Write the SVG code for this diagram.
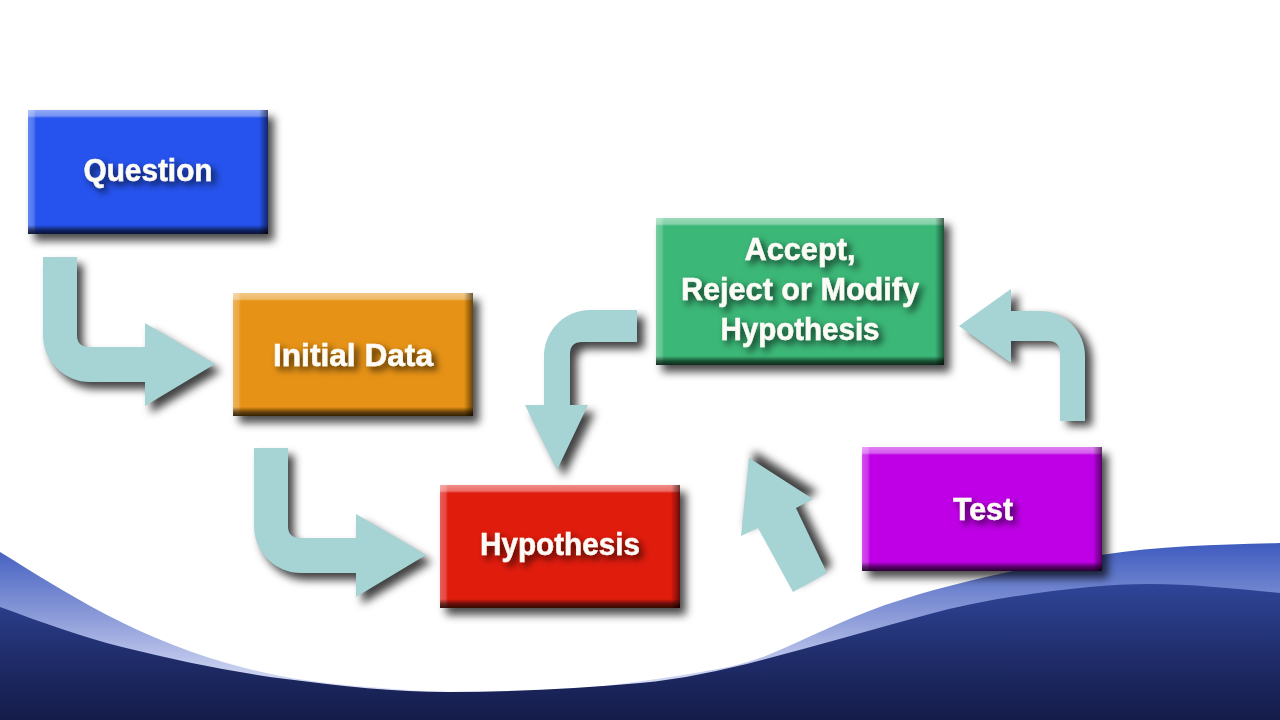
<svg xmlns="http://www.w3.org/2000/svg" width="1280" height="720" viewBox="0 0 1280 720">
<defs>
<linearGradient id="lightWave" gradientUnits="userSpaceOnUse" x1="0" y1="544" x2="0" y2="692">
<stop offset="0" stop-color="#3f5cbf"/><stop offset="0.5" stop-color="#8d9cd9"/><stop offset="1" stop-color="#dfe3f7"/>
</linearGradient>
<linearGradient id="darkWave" gradientUnits="userSpaceOnUse" x1="0" y1="584" x2="0" y2="720">
<stop offset="0" stop-color="#2f4598"/><stop offset="0.55" stop-color="#1f2c69"/><stop offset="1" stop-color="#141c49"/>
</linearGradient>
<linearGradient id="gTop" x1="0" y1="0" x2="0" y2="1"><stop offset="0" stop-color="#fff" stop-opacity=".5"/><stop offset=".75" stop-color="#fff" stop-opacity=".36"/><stop offset="1" stop-color="#fff" stop-opacity="0"/></linearGradient>
<linearGradient id="gLeft" x1="0" y1="0" x2="1" y2="0"><stop offset="0" stop-color="#fff" stop-opacity=".3"/><stop offset=".7" stop-color="#fff" stop-opacity=".2"/><stop offset="1" stop-color="#fff" stop-opacity="0"/></linearGradient>
<linearGradient id="gBottom" x1="0" y1="0" x2="0" y2="1"><stop offset="0" stop-color="#000" stop-opacity="0"/><stop offset=".55" stop-color="#000" stop-opacity=".55"/><stop offset="1" stop-color="#000" stop-opacity=".78"/></linearGradient>
<linearGradient id="gRight" x1="0" y1="0" x2="1" y2="0"><stop offset="0" stop-color="#000" stop-opacity="0"/><stop offset="1" stop-color="#000" stop-opacity=".55"/></linearGradient>
<filter id="boxShadow" x="-15%" y="-15%" width="130%" height="130%"><feGaussianBlur stdDeviation="4"/></filter>
<filter id="arrowShadow" x="-25%" y="-25%" width="150%" height="150%"><feGaussianBlur stdDeviation="4"/></filter>
<filter id="textShadow" x="-20%" y="-40%" width="140%" height="200%"><feDropShadow dx="4" dy="4" stdDeviation="3.5" flood-color="#000" flood-opacity=".72"/></filter>
<filter id="soft" x="-2%" y="-2%" width="104%" height="104%"><feGaussianBlur stdDeviation="0.6"/></filter>
<path id="elbow1" d="M43 257H77V335Q77 347 89 347H145V323L215 364L145 406V382H90A47 47 0 0 1 43 335Z"/>
<path id="elbow3" d="M637 310V342H582Q570 342 570 354V405H588L557 470L525 405H544V356A46 46 0 0 1 590 310Z"/>
<path id="elbow4" d="M1060 421H1085V356A45 45 0 0 0 1040 311H1011V289L959 326L1011 363V341H1048Q1060 341 1060 353Z"/>
<path id="straight5" d="M749 458L813 499L796 508L827 573L793 592L758 528L741 536Z"/>
</defs>
<style>
text{font-family:"Liberation Sans",Arial,sans-serif;font-weight:700;font-size:31px;text-anchor:middle;fill:#fdfbf6;stroke:#fdfbf6;stroke-width:.45px;filter:url(#textShadow)}
.bs{fill:#000;fill-opacity:.7;filter:url(#boxShadow)}
.as{fill:#000;fill-opacity:.74;filter:url(#arrowShadow)}
.arrow{fill:#a6d3d4}
.t{fill:url(#gTop)}
.l{fill:url(#gLeft)}
.b{fill:url(#gBottom)}
.r{fill:url(#gRight)}
</style>
<rect width="1280" height="720" fill="#fff"/>
<g id="background">
<path fill="url(#lightWave)" d="M0 552C60 589 140 642 245 668C299 682.600 354 686.200 408 690C449 692.900 489 692.700 530 691.500C587 689.800 644 681.100 701 672C723 668.500 746 664.200 768 655C807 638.600 846 618.700 885 605C957 581 1029 566.500 1101 555C1161 545.400 1220 544.800 1280 543V720H0Z"/>
<path fill="url(#darkWave)" d="M0 607C41 622 81 636.800 122 647C177 660.800 231 671.900 286 679C340 686 395 692 449 692C513 692 576 688.800 640 683C681 679.300 721 670.700 762 660C817 645.700 871 629.900 926 615C980 600.400 1035 592.400 1089 587C1109 585 1130 584 1150 584C1193 584 1237 589 1280 593V720H0Z"/>
</g>
<g id="connectors">
<use href="#elbow1" class="as" x="6" y="7"/>
<use href="#elbow1" class="as" x="217" y="198"/>
<use href="#elbow3" class="as" x="7" y="7"/>
<use href="#elbow4" class="as" x="7" y="5"/>
<use href="#straight5" class="as" x="5" y="-7"/>
<use href="#elbow1" class="arrow"/>
<use href="#elbow1" class="arrow" x="211" y="191"/>
<use href="#elbow3" class="arrow"/>
<use href="#elbow4" class="arrow"/>
<use href="#straight5" class="arrow"/>
</g>
<g id="node-question">
<rect class="bs" x="34" y="117" width="240" height="124"/>
<g filter="url(#soft)"><rect x="28" y="110" width="240" height="124" fill="#2553ed"/>
<rect class="t" x="28" y="110" width="240" height="8"/><rect class="l" x="28" y="110" width="8" height="124"/>
<rect class="b" x="28" y="225" width="240" height="9"/><rect class="r" x="259" y="110" width="9" height="124"/></g>
<text x="148" y="181" textLength="129" lengthAdjust="spacingAndGlyphs">Question</text>
</g>
<g id="node-initial-data">
<rect class="bs" x="239" y="300" width="240" height="123"/>
<g filter="url(#soft)"><rect x="233" y="293" width="240" height="123" fill="#e69213"/>
<rect class="t" x="233" y="293" width="240" height="8"/><rect class="l" x="233" y="293" width="8" height="123"/>
<rect class="b" x="233" y="407" width="240" height="9"/><rect class="r" x="464" y="293" width="9" height="123"/></g>
<text x="353" y="366" textLength="160" lengthAdjust="spacingAndGlyphs">Initial Data</text>
</g>
<g id="node-hypothesis">
<rect class="bs" x="446" y="492" width="240" height="123"/>
<g filter="url(#soft)"><rect x="440" y="485" width="240" height="123" fill="#e01b10"/>
<rect class="t" x="440" y="485" width="240" height="8"/><rect class="l" x="440" y="485" width="8" height="123"/>
<rect class="b" x="440" y="599" width="240" height="9"/><rect class="r" x="671" y="485" width="9" height="123"/></g>
<text x="560" y="555" textLength="160" lengthAdjust="spacingAndGlyphs">Hypothesis</text>
</g>
<g id="node-accept">
<rect class="bs" x="662" y="225" width="288" height="147"/>
<g filter="url(#soft)"><rect x="656" y="218" width="288" height="147" fill="#3bb777"/>
<rect class="t" x="656" y="218" width="288" height="8"/><rect class="l" x="656" y="218" width="8" height="147"/>
<rect class="b" x="656" y="356" width="288" height="9"/><rect class="r" x="935" y="218" width="9" height="147"/></g>
<text x="800" y="260" textLength="111" lengthAdjust="spacingAndGlyphs">Accept,</text>
<text x="800" y="300" textLength="238" lengthAdjust="spacingAndGlyphs">Reject or Modify</text>
<text x="800" y="340" textLength="159" lengthAdjust="spacingAndGlyphs">Hypothesis</text>
</g>
<g id="node-test">
<rect class="bs" x="868" y="454" width="240" height="124"/>
<g filter="url(#soft)"><rect x="862" y="447" width="240" height="124" fill="#bf00e6"/>
<rect class="t" x="862" y="447" width="240" height="8"/><rect class="l" x="862" y="447" width="8" height="124"/>
<rect class="b" x="862" y="562" width="240" height="9"/><rect class="r" x="1093" y="447" width="9" height="124"/></g>
<text x="983" y="520" textLength="60" lengthAdjust="spacingAndGlyphs">Test</text>
</g>
</svg>
